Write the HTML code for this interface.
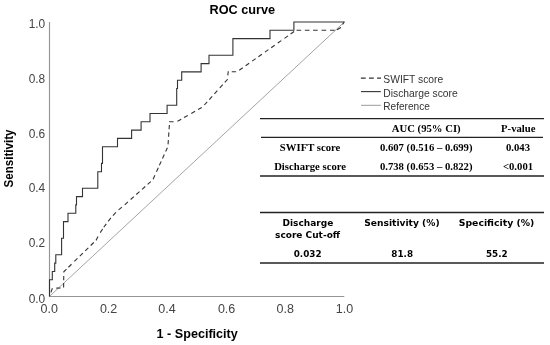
<!DOCTYPE html>
<html lang="en">
<head>
<meta charset="utf-8">
<title>ROC curve</title>
<style>
html,body{margin:0;padding:0;background:#fff;}
body{width:550px;height:345px;overflow:hidden;}
svg{display:block;}
.sans{font-family:"Liberation Sans",Arial,Helvetica,sans-serif;}
.serif{font-family:"Liberation Serif","Times New Roman",Times,serif;font-weight:bold;}
.kr{font-family:"DejaVu Sans","Liberation Sans",sans-serif;font-weight:bold;}
.tick{fill:#444;}
.b{font-weight:bold;fill:#000;}
</style>
</head>
<body>
<svg width="550" height="345" viewBox="0 0 550 345">
<rect x="0" y="0" width="550" height="345" fill="#ffffff"/>

<!-- axes -->
<g fill="none" stroke="#949494" stroke-width="1.15">
<path d="M49.5 22 V296.5 H344.3"/>
</g>
<!-- reference line -->
<path d="M49.5 296.4 L344.3 22.0" fill="none" stroke="#9a9a9a" stroke-width="0.9"/>
<!-- SWIFT score (dashed) -->
<path d="M49.5 296.4 L52.4 288.2 L63.6 288.0 L63.8 271.8 L96.0 240.3 L100.2 232.7 L104.8 225.8 L110.5 218.3 L117.0 211.3 L124.6 204.9 L152.8 179.8 L167.9 146.6 L169.6 121.8 L177.0 121.6 L202.5 107.0 L227.4 79.5 L228.2 71.7 L237.0 71.8 L296.0 30.2 L336.3 30.2 L340.4 27.8 L344.3 21.8" fill="none" stroke="#333" stroke-width="1.1" stroke-dasharray="0.0 4.3 4.3 4.0 4.3 3.6 4.3 2.9 4.3 3.5 4.3 2.8 4.3 4.0 4.3 3.3 4.3 3.3 4.3 3.3 4.3 3.1 4.3 4.5 4.3 2.1 4.3 3.1 4.3 3.2 4.3 3.7 4.3 3.7 4.3 3.6 4.3 3.3 4.3 3.4 4.3 3.1 4.3 3.4 4.3 3.9 4.3 2.7 4.3 3.2 4.3 3.3 4.3 3.4 4.3 3.4 4.3 3.1 4.3 2.9 4.3 4.0 4.3 3.2 4.3 4.1 4.3 3.5 4.3 3.5 4.3 3.1 4.3 3.4 4.3 3.7 4.3 3.1 4.3 3.7 4.3 3.0 4.3 3.7 4.3 3.5 4.3 3.7 4.3 3.3 4.3 3.7 4.3 3.4 4.3 3.7 4.3 3.9 4.3 3.2 4.3 2.9 4.6 3.7 4.6 3.6 4.6 3.9 4.6 3.9 4.6 2.5 4.6 3.3 4.6 3.8"/>
<!-- Discharge score (solid) -->
<path d="M49.5 296.4 H49.5 V279.8 H52.3 V271.5 H54.7 V263.1 H55.8 V254.8 H61.6 V238.2 H63.5 V221.6 H68.0 V213.2 H75.8 V204.9 H76.5 V196.6 H82.5 V188.3 H97.8 V171.7 H101.5 V163.4 H102.5 V146.7 H117.5 V138.4 H131.6 V130.1 H141.1 V121.8 H150.0 V113.5 H167.1 V105.2 H176.7 V88.5 H177.5 V80.2 H181.7 V71.9 H201.1 V63.6 H209.0 V55.3 H232.9 V38.6 H270.0 V30.3 H293.9 V22.0 H344.3" fill="none" stroke="#333" stroke-width="1.1" stroke-linejoin="miter"/>

<!-- title -->
<text class="sans b" x="242.3" y="14.45" font-size="12.7" text-anchor="middle">ROC curve</text>
<!-- axis titles -->
<text class="sans b" font-size="13" text-anchor="middle" transform="translate(12.5 158.5) rotate(-90) scale(0.89 1)">Sensitivity</text>
<text class="sans b" x="197.2" y="337.7" font-size="12.6" text-anchor="middle">1 - Specificity</text>

<!-- y tick labels -->
<g class="sans tick" font-size="11.9" text-anchor="end">
<text x="45.2" y="27.5">1.0</text>
<text x="45.2" y="82.6">0.8</text>
<text x="45.2" y="137.5">0.6</text>
<text x="45.2" y="192.4">0.4</text>
<text x="45.2" y="247.3">0.2</text>
<text x="45.2" y="302.6">0.0</text>
</g>
<!-- x tick labels -->
<g class="sans tick" font-size="13.2" text-anchor="middle">
<text transform="translate(49.3 312.6) scale(0.95 1)">0.0</text>
<text transform="translate(108.6 312.6) scale(0.95 1)">0.2</text>
<text transform="translate(167.0 312.6) scale(0.95 1)">0.4</text>
<text transform="translate(226.6 312.6) scale(0.95 1)">0.6</text>
<text transform="translate(285.2 312.6) scale(0.95 1)">0.8</text>
<text transform="translate(344.5 312.6) scale(0.95 1)">1.0</text>
</g>

<!-- legend -->
<g fill="none">
<path d="M360.9 78.1 H381" stroke="#333" stroke-width="1.25" stroke-dasharray="4.8 3.3"/>
<path d="M361 91.6 H380.8" stroke="#333" stroke-width="1.1"/>
<path d="M361 105.3 H380.8" stroke="#9a9a9a" stroke-width="1"/>
</g>
<g class="sans" font-size="10.3" fill="#333">
<text x="383.3" y="82.5">SWIFT score</text>
<text x="383.3" y="96.6">Discharge score</text>
<text x="383.3" y="110" font-size="10.1">Reference</text>
</g>

<!-- table 1 -->
<g stroke="#222" fill="none">
<path d="M260 118.6 H544" stroke-width="1.4"/>
<path d="M261 137.4 H543" stroke-width="1.1"/>
<path d="M260 176 H544" stroke-width="1.5"/>
</g>
<g class="serif" font-size="10" fill="#000" text-anchor="middle">
<text transform="translate(426.2 131.8) scale(1.07 1)">AUC (95% CI)</text>
<text transform="translate(518.3 131.8) scale(1.07 1)">P-value</text>
<text transform="translate(310.1 151) scale(1.07 1)">SWIFT score</text>
<text transform="translate(426.2 151) scale(1.07 1)">0.607 (0.516 – 0.699)</text>
<text transform="translate(518 151) scale(1.07 1)">0.043</text>
<text transform="translate(310.1 170.2) scale(1.07 1)">Discharge score</text>
<text transform="translate(426.2 170.2) scale(1.07 1)">0.738 (0.653 – 0.822)</text>
<text transform="translate(518 170.2) scale(1.07 1)">&lt;0.001</text>
</g>

<!-- table 2 -->
<g stroke="#222" fill="none">
<path d="M260 212.5 H544" stroke-width="1.3"/>
<path d="M260 263 H544" stroke-width="1.6"/>
</g>
<g class="kr" font-size="9" fill="#000" text-anchor="middle">
<text x="307.9" y="226">Discharge</text>
<text x="307.6" y="237.8">score Cut-off</text>
<text x="401.9" y="226.4" font-size="9.15">Sensitivity (%)</text>
<text x="496.5" y="226.4" font-size="9.3">Specificity (%)</text>
<text x="307.6" y="257" font-size="8.8">0.032</text>
<text x="402.2" y="257" font-size="8.8">81.8</text>
<text x="496.8" y="257" font-size="8.8">55.2</text>
</g>
</svg>
</body>
</html>
